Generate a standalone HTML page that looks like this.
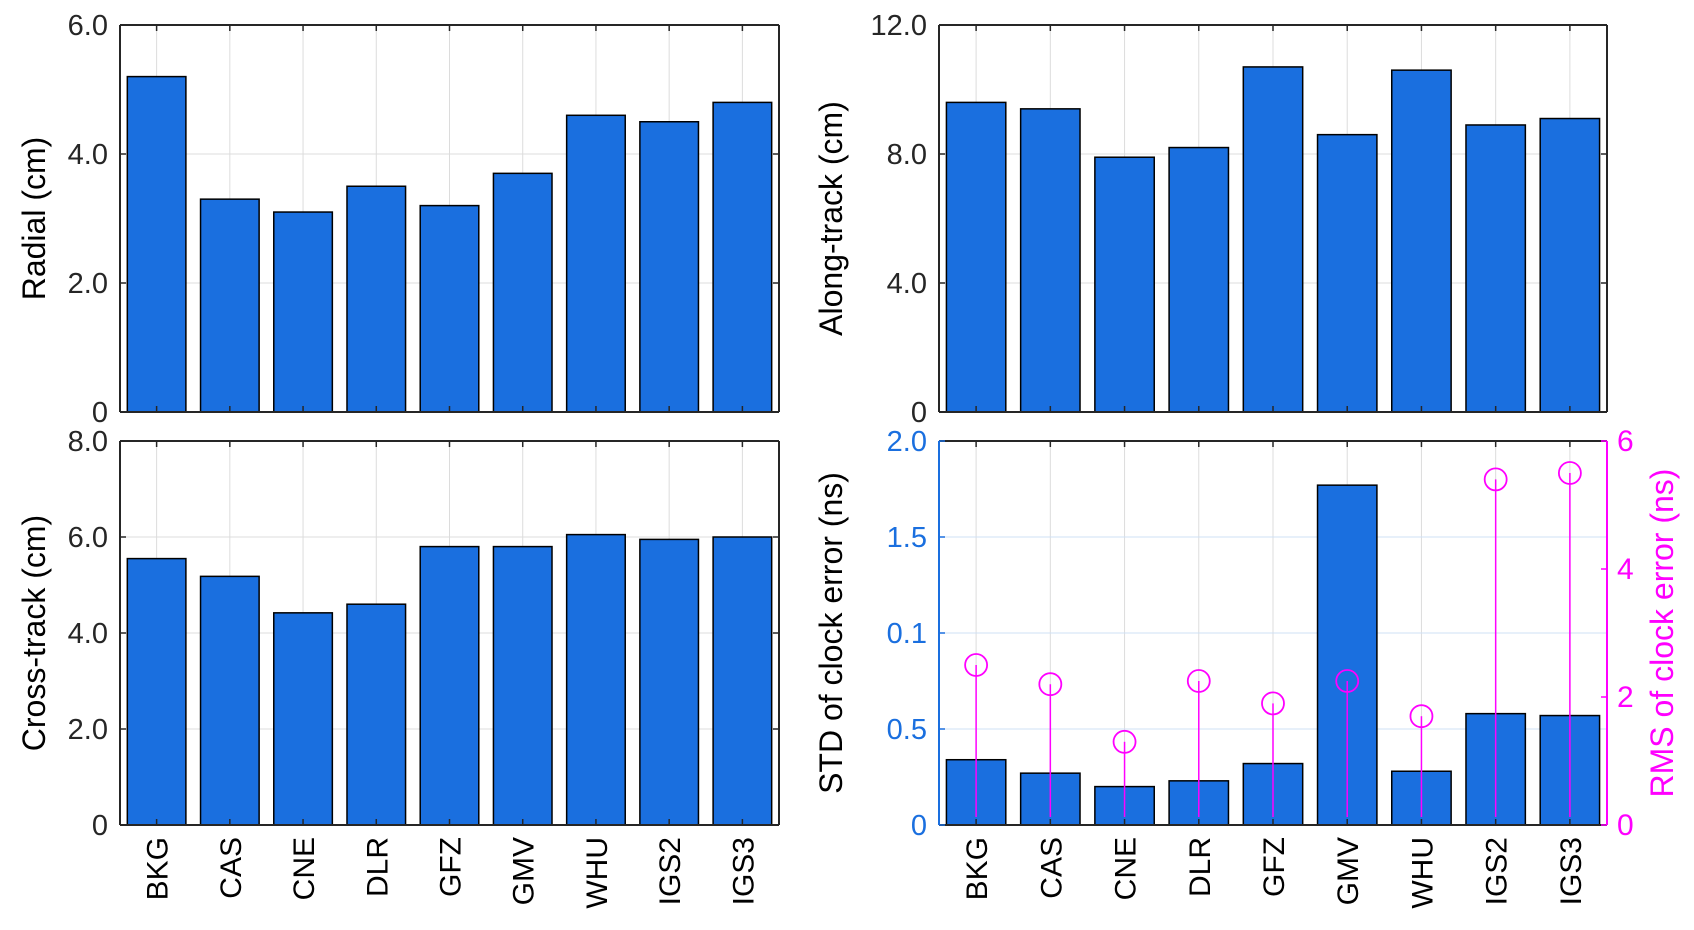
<!DOCTYPE html>
<html><head><meta charset="utf-8"><style>
html,body{margin:0;padding:0;background:#fff}
svg{display:block;font-family:"Liberation Sans",Arial,sans-serif}
</style></head><body>
<svg id="fig" width="1694" height="930" viewBox="0 0 1694 930" xmlns="http://www.w3.org/2000/svg"></svg>
<script>
const categories = ["BKG","CAS","CNE","DLR","GFZ","GMV","WHU","IGS2","IGS3"];
const radialValues = [5.2,3.3,3.1,3.5,3.2,3.7,4.6,4.5,4.8];
const alongValues = [9.6,9.4,7.9,8.2,10.7,8.6,10.6,8.9,9.1];
const crossValues = [5.55,5.18,4.42,4.6,5.8,5.8,6.05,5.95,6.0];
const stdValues = [0.34,0.27,0.2,0.23,0.32,1.77,0.28,0.58,0.57];
const rmsValues = [2.5,2.2,1.3,2.25,1.9,2.25,1.7,5.4,5.5];
const radialTicks = [0,2,4,6];
const radialTickLabels = ["0","2.0","4.0","6.0"];
const alongTicks = [0,4,8,12];
const alongTickLabels = ["0","4.0","8.0","12.0"];
const crossTicks = [0,2,4,6,8];
const crossTickLabels = ["0","2.0","4.0","6.0","8.0"];
const stdTicks = [0,0.5,1,1.5,2];
const stdTickLabels = ["0","0.5","0.1","1.5","2.0"];
const rmsTicks = [0,2,4,6];
const rmsTickLabels = ["0","2","4","6"];

const NS="http://www.w3.org/2000/svg";
const svg=document.getElementById('fig');
function mk(tag,attrs,parent){const e=document.createElementNS(NS,tag);for(const k in attrs)e.setAttribute(k,attrs[k]);(parent||svg).appendChild(e);return e;}

function panel(o){
  const g=mk('g',{});
  
  
  const {x0,x1,y0,y1}=o;
  const n=categories.length, step=(x1-x0)/n;
  const xc=i=>x0+step*(i+0.5);
  const ys=v=>y1-(v-o.min)/(o.max-o.min)*(y1-y0);
  for(let i=0;i<n;i++){
    const l=mk('line',{x1:xc(i),x2:xc(i),y1:y0,y2:y1,stroke:'#dcdcdc','stroke-width':1},g);
    
    
  }
  o.ticks.forEach(t=>{
    const l=mk('line',{x1:x0,x2:x1,y1:ys(t),y2:ys(t),stroke:o.gridColor||'#dcdcdc','stroke-width':1},g);
    
    
  });
  o.values.forEach((v,i)=>{
    const bw=step*0.8;
    const r=mk('rect',{x:xc(i)-bw/2,y:ys(v),width:bw,height:y1-ys(v),fill:'#1a6fdf',stroke:'#000','stroke-width':1.5},g);
    
    
  });
  if(o.rms){
    const ry=v=>y1-v/6*(y1-y0);
    o.rms.forEach((v,i)=>{
      const l=mk('line',{x1:xc(i),x2:xc(i),y1:ry(v),y2:y1-8,stroke:'#ff00ff','stroke-width':1.5},g);
      
      
      const c=mk('ellipse',{cx:xc(i),cy:ry(v),rx:11,ry:11,fill:'none',stroke:'#ff00ff','stroke-width':1.8},g);
      
      
    });
  }
  const lc=o.leftColor||'#262626';
  mk('line',{x1:x0,x2:x1,y1:y0,y2:y0,stroke:'#262626','stroke-width':2},g);
  mk('line',{x1:x0,x2:x1,y1:y1,y2:y1,stroke:'#262626','stroke-width':2},g);
  mk('line',{x1:x0,x2:x0,y1:y0,y2:y1,stroke:lc,'stroke-width':2},g);
  mk('line',{x1:x1,x2:x1,y1:y0,y2:y1,stroke:o.rightColor||'#262626','stroke-width':2},g);
  for(let i=0;i<n;i++){
    mk('line',{x1:xc(i),x2:xc(i),y1:y0,y2:y0+6,stroke:'#262626','stroke-width':1.5},g);
    mk('line',{x1:xc(i),x2:xc(i),y1:y1,y2:y1-6,stroke:'#262626','stroke-width':1.5},g);
  }
  o.ticks.forEach((t,k)=>{
    mk('line',{x1:x0,x2:x0+6,y1:ys(t),y2:ys(t),stroke:lc,'stroke-width':1.5},g);
    if(!o.rms) mk('line',{x1:x1,x2:x1-6,y1:ys(t),y2:ys(t),stroke:'#262626','stroke-width':1.5},g);
    const tx=mk('text',{x:x0-12,y:ys(t)+10,'text-anchor':'end','font-size':29,fill:lc},g);
    tx.textContent=o.tickLabels[k];
    
    
  });
  if(o.rms){
    const ry=v=>y1-v/6*(y1-y0);
    rmsTicks.forEach((t,k)=>{
      mk('line',{x1:x1,x2:x1-6,y1:ry(t),y2:ry(t),stroke:'#ff00ff','stroke-width':1.5},g);
      const tx=mk('text',{x:x1+10,y:ry(t)+10,'text-anchor':'start','font-size':30,fill:'#ff00ff'},g);
      tx.textContent=rmsTickLabels[k];
      
      
    });
    const rt=mk('text',{transform:`translate(1673,${(y0+y1)/2}) rotate(-90)`,'text-anchor':'middle','font-size':32,fill:'#ff00ff'},g);
    rt.textContent='RMS of clock error (ns)';
    
    
  }
  const yt=mk('text',{transform:`translate(${o.titleX},${(y0+y1)/2}) rotate(-90)`,'text-anchor':'middle','font-size':32,fill:'#000'},g);
  yt.textContent=o.title;
  
  
  if(o.xlabels){
    categories.forEach((c,i)=>{
      const t=mk('text',{transform:`translate(${xc(i)+11},${y1+12}) rotate(-90)`,'text-anchor':'end','font-size':30,fill:'#000'},g);
      t.textContent=c;
      
      
    });
  }
}
panel({name:'radial-panel',x0:120,x1:779,y0:25,y1:412,min:0,max:6,values:radialValues,ticks:radialTicks,tickLabels:radialTickLabels,title:'Radial (cm)',titleX:45});
panel({name:'along-track-panel',x0:939,x1:1607,y0:25,y1:412,min:0,max:12,values:alongValues,ticks:alongTicks,tickLabels:alongTickLabels,title:'Along-track (cm)',titleX:842});
panel({name:'cross-track-panel',x0:120,x1:779,y0:441,y1:825,min:0,max:8,values:crossValues,ticks:crossTicks,tickLabels:crossTickLabels,title:'Cross-track (cm)',titleX:45,xlabels:true});
panel({name:'clock-panel',x0:939,x1:1607,y0:441,y1:825,min:0,max:2,values:stdValues,ticks:stdTicks,tickLabels:stdTickLabels,title:'STD of clock error (ns)',titleX:842,xlabels:true,leftColor:'#1a6fdf',rightColor:'#ff00ff',gridColor:'#cfe0f5',rms:rmsValues});
</script>
</body></html>
